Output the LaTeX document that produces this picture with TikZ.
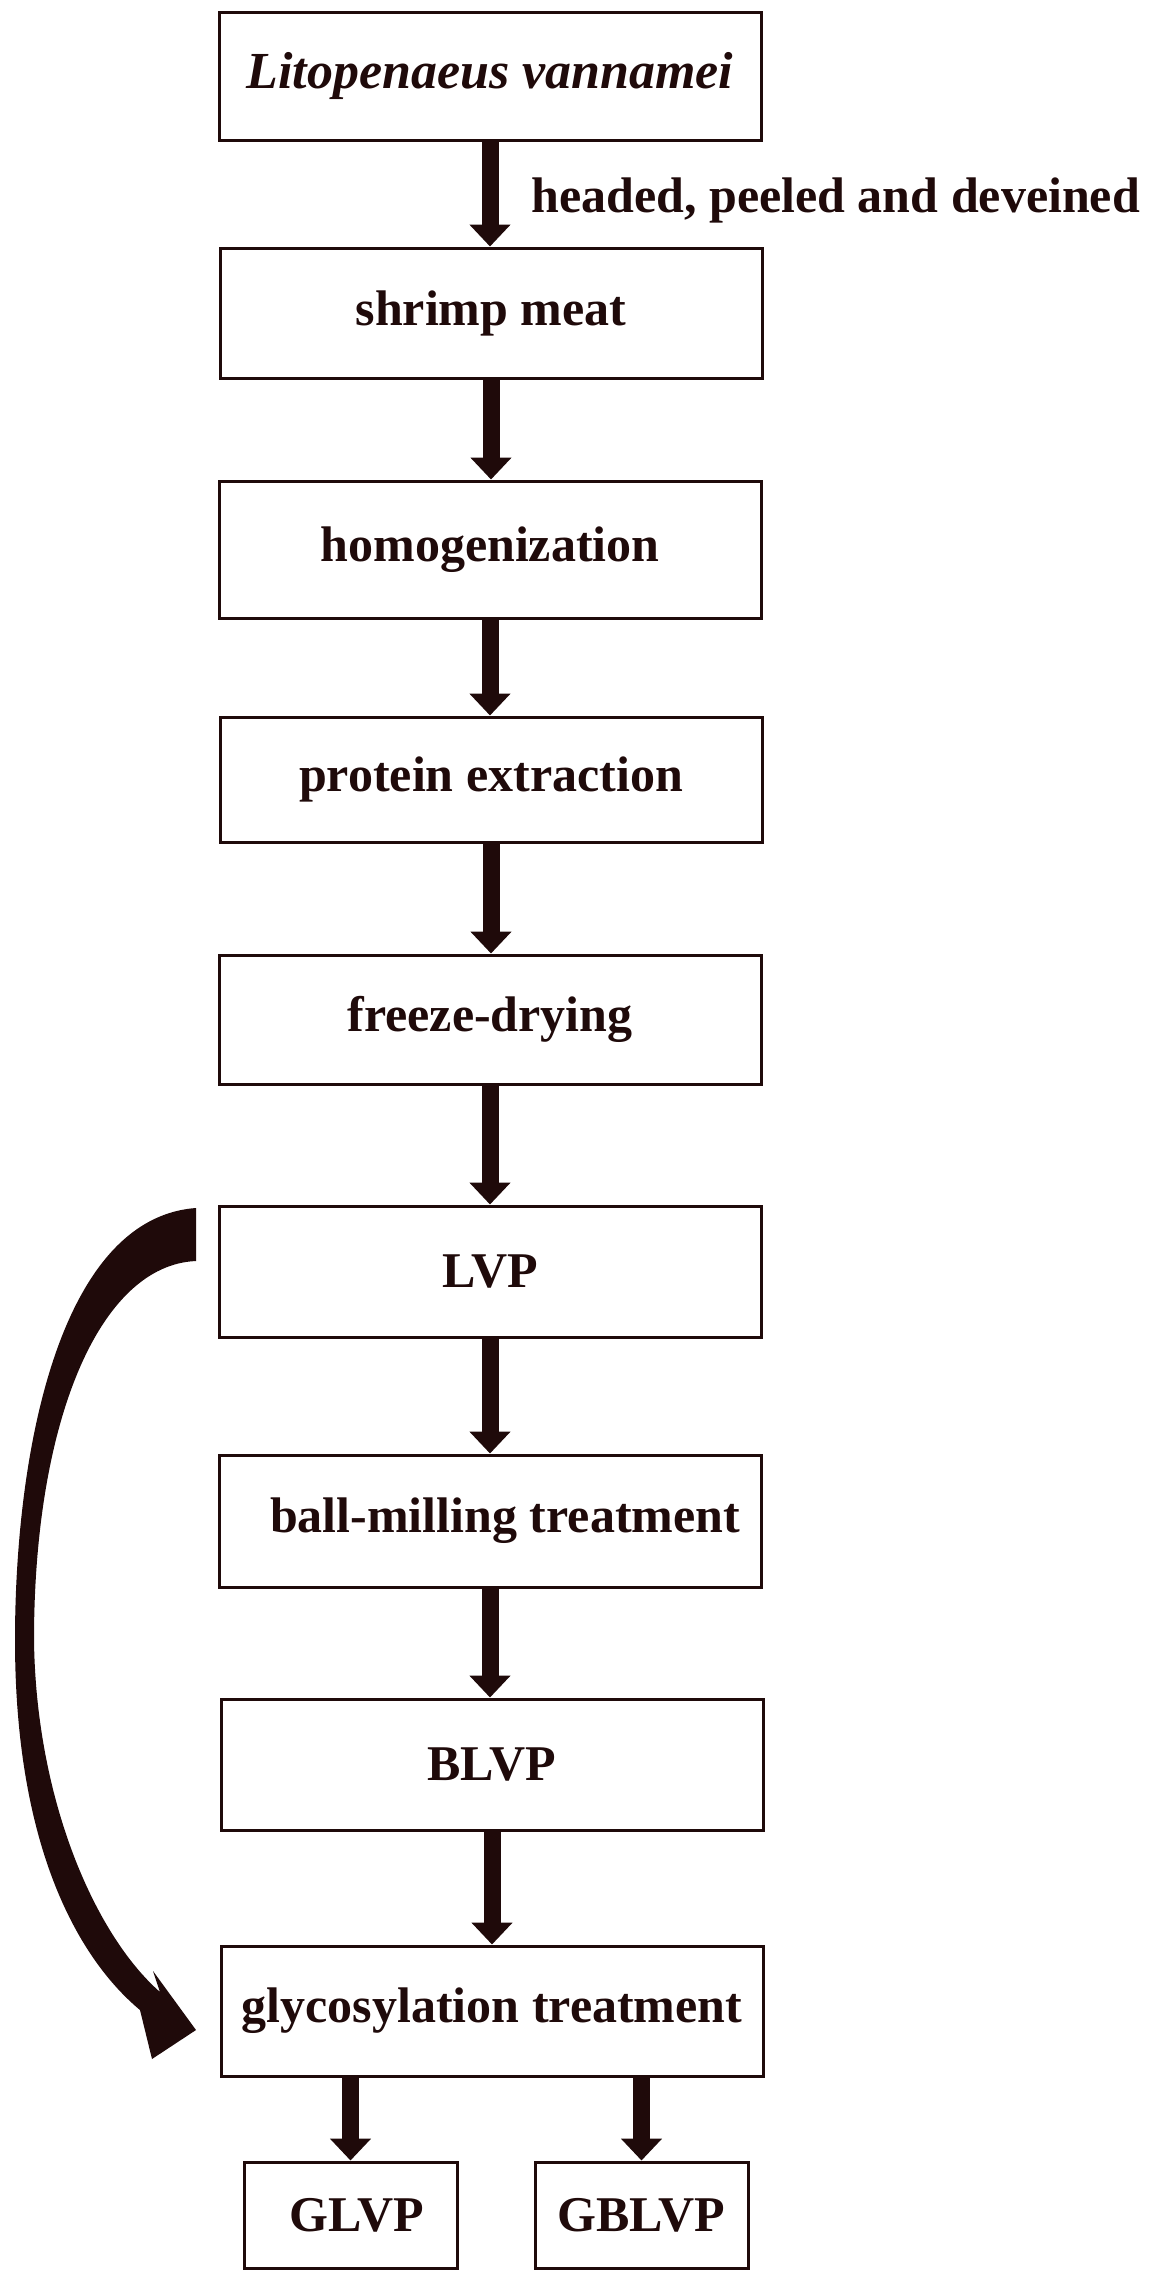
\documentclass[tikz,border=0pt]{standalone}
\usepackage{fontspec}
\setmainfont{Liberation Serif}
\usetikzlibrary{arrows.meta}
\definecolor{ink}{HTML}{1F0A0A}
\begin{document}
\begin{tikzpicture}[x=1pt,y=-1pt,
  box/.style={draw=ink,line width=3pt,text=ink,font=\fontsize{50}{54}\selectfont\bfseries,inner sep=0pt},
  flow/.style={draw=ink,line width=17pt,-{Triangle[width=40pt,length=22pt]}}]
\useasboundingbox (0,0) rectangle (1156,2281);
\newcommand{\bx}[6]{\node[box,minimum width=#4-#3,minimum height=#6-#5] (#1) at ({(#3+#4)/2},{(#5+#6)/2}) {#2};}
\bx{a}{\fontsize{52}{56}\selectfont\textit{Litopenaeus vannamei}}{219}{761}{12}{140}
\bx{b}{shrimp meat}{220}{762}{248}{378}
\bx{c}{homogenization}{219}{761}{481}{618}
\bx{d}{protein extraction}{220}{762}{717}{842}
\bx{e}{freeze-drying}{219}{761}{955}{1084}
\bx{f}{LVP}{219}{761}{1206}{1337}
\bx{g}{\hspace{30pt}ball-milling treatment}{219}{761}{1455}{1587}
\bx{h}{BLVP}{221}{763}{1699}{1830}
\bx{i}{glycosylation treatment}{221}{763}{1946}{2076}
\bx{j}{\hspace{12pt}GLVP}{244}{457}{2162}{2268}
\bx{k}{GBLVP}{535}{748}{2162}{2268}
\foreach \p/\q in {a/b,b/c,c/d,d/e,e/f,f/g,g/h,h/i}
  \draw[flow] (\p.south) -- (\p.south |- \q.north);
\draw[flow] (i.south -| j.north) -- (j.north);
\draw[flow] (i.south -| k.north) -- (k.north);
\node[text=ink,font=\fontsize{50}{54}\selectfont\bfseries,anchor=west] (lab) at (528,200) {headed, peeled and deveined};
\coordinate (s1) at (196,1208);
\coordinate (s2) at (196,1261);
\coordinate (tip) at (196,2030);
\fill[ink] (s1) .. controls (60,1218) and (15,1450) .. (15,1640)
  .. controls (15,1850) and (80,1960) .. (140,2010)
  -- (152,2059) -- (tip) -- (153,1971) -- (160,1992)
  .. controls (95,1935) and (36,1800) .. (34,1640)
  .. controls (34,1420) and (100,1265) .. (s2) -- cycle;
\end{tikzpicture}
\end{document}
